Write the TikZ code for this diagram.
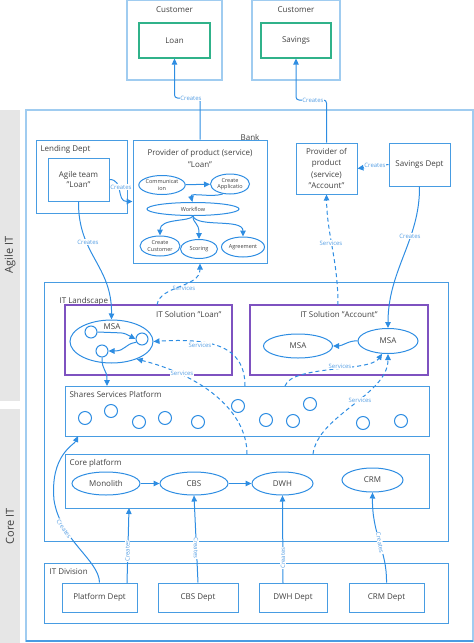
\documentclass[tikz,border=0pt]{standalone}
\usepackage{fontspec}
\setmainfont{Open Sans}
\usetikzlibrary{shapes.geometric}
\usetikzlibrary{arrows.meta}
\definecolor{lineblue}{RGB}{46,141,226}
\definecolor{boxblue}{RGB}{72,156,226}
\definecolor{paleblue}{RGB}{160,204,240}
\definecolor{lblblue}{RGB}{88,160,228}
\definecolor{solpurple}{RGB}{126,82,192}
\definecolor{prodgreen}{RGB}{48,178,138}
\definecolor{bandgray}{RGB}{230,230,230}
\definecolor{txtgray}{RGB}{64,64,64}

\begin{document}
\begin{tikzpicture}[x=1pt, y=-1pt,
  every node/.style={text=txtgray, font=\fontsize{8}{10}\selectfont},
  box/.style={draw=boxblue, line width=1pt, inner sep=0pt},
  palebox/.style={draw=paleblue, line width=1.4pt, inner sep=0pt},
  prodbox/.style={draw=prodgreen, line width=1.2pt, inner sep=0pt},
  solbox/.style={draw=solpurple, line width=1.2pt, inner sep=0pt},
  ell/.style={ellipse, draw=lineblue, line width=1pt, inner sep=0pt},
  tinyell/.style={ell, font=\fontsize{5.5}{6.5}\selectfont, align=center},
  dot/.style={circle, draw=lineblue, line width=1pt, minimum size=12pt, inner sep=0pt},
  conn/.style={draw=lineblue, line width=1pt, -{Triangle[length=6pt,width=5.5pt]}},
  svc/.style={conn, dash pattern=on 4pt off 3pt},
  lbl/.style={text=lblblue, font=\fontsize{6}{6}\selectfont, fill=white, inner sep=0.6pt}]

  \useasboundingbox (0,0) rectangle (474,643);

  % side bands
  \fill[bandgray] (0,110) rectangle (20,401);
  \fill[bandgray] (0,409) rectangle (20,643);
  \node[rotate=90, font=\fontsize{11}{12}\selectfont] (agileit) at (10,255) {Agile IT};
  \node[rotate=90, font=\fontsize{11}{12}\selectfont] (coreit) at (10,526) {Core IT};

  % customers
  \node[palebox, minimum width=95pt, minimum height=80pt] (custL) at (174.5,40) {};
  \node (custLt) at (174.5,10) {Customer};
  \node[prodbox, minimum width=71pt, minimum height=35pt] (loan) at (174.5,40.5) {Loan};
  \node[palebox, minimum width=88pt, minimum height=80pt] (custS) at (296,40) {};
  \node (custSt) at (296,10) {Customer};
  \node[prodbox, minimum width=70pt, minimum height=35pt] (savings) at (296,40.5) {Savings};

  % bank
  \draw[paleblue, line width=1.4pt] (26,110) rectangle (473,641);
  \draw[boxblue, line width=2pt] (26,641) -- (473,641);
  \node (bank) at (250,137) {Bank};

  % lending dept
  \node[box, minimum width=91pt, minimum height=73pt] (lending) at (81.5,176.5) {};
  \node[anchor=west] (lendingt) at (37,149) {Lending Dept};
  \node[box, minimum width=61pt, minimum height=43pt, align=center] (agile) at (78.5,179.5) {Agile team\\"Loan"};

  % provider loan
  \node[box, minimum width=134pt, minimum height=123pt] (provL) at (200,201.5) {};
  \node[align=center, font=\fontsize{8}{12}\selectfont] (provLt) at (200,158) {Provider of product (service)\\"Loan"};
  \node[tinyell, minimum width=43pt, minimum height=19pt] (comm) at (162,185) {Communicat\\ion};
  \node[tinyell, minimum width=39pt, minimum height=20pt] (capp) at (230,184) {Create\\Applicatio};
  \node[tinyell, minimum width=92pt, minimum height=13pt] (wflow) at (193,209) {Workflow};
  \node[tinyell, minimum width=40pt, minimum height=20pt] (ccust) at (160,246) {Create\\Customer};
  \node[tinyell, minimum width=37pt, minimum height=19pt] (scor) at (199,249) {Scoring};
  \node[tinyell, minimum width=43pt, minimum height=20pt] (agr) at (243,247) {Agreement};

  % provider account, savings dept
  \node[box, minimum width=61pt, minimum height=51pt, align=center, font=\fontsize{8}{11.5}\selectfont] (provA) at (326.5,168.5) {Provider of\\product\\(service)\\"Account"};
  \node[box, minimum width=61pt, minimum height=43pt] (savdept) at (419.5,164.5) {Savings Dept};

  % IT landscape
  \node[box, minimum width=404pt, minimum height=259pt] (itland) at (246,411.5) {};
  \node[anchor=west] (itlandt) at (56,301) {IT Landscape};

  % IT solution loan
  \node[solbox, minimum width=167pt, minimum height=70pt] (solL) at (148.5,340) {};
  \node[anchor=east] (solLt) at (225,314) {IT Solution "Loan"};
  \node[ell, minimum width=83pt, minimum height=43pt] (msaL) at (111.5,341.5) {};
  \node (msaLt) at (112,327) {MSA};
  \node[dot] (m1) at (91,332) {};
  \node[dot] (m2) at (142,339) {};
  \node[dot] (m3) at (102,351) {};

  % IT solution account
  \node[solbox, minimum width=178pt, minimum height=70pt] (solA) at (339,340) {};
  \node (solAt) at (339,314) {IT Solution "Account"};
  \node[ell, minimum width=69pt, minimum height=24pt] (msaA1) at (298,346) {MSA};
  \node[ell, minimum width=60pt, minimum height=25pt] (msaA2) at (388,341) {MSA};

  % shared services platform
  \node[box, minimum width=364pt, minimum height=50pt] (ssp) at (247,411) {};
  \node[anchor=west] (sspt) at (66,394) {Shares Services Platform};
  \node[dot, minimum size=13pt] (s1) at (85,418) {};
  \node[dot, minimum size=13pt] (s2) at (111,411) {};
  \node[dot, minimum size=13pt] (s3) at (139,422) {};
  \node[dot, minimum size=13pt] (s4) at (165,418) {};
  \node[dot, minimum size=13pt] (s5) at (198,422) {};
  \node[dot, minimum size=13pt] (s6) at (238,406) {};
  \node[dot, minimum size=13pt] (s7) at (266,420) {};
  \node[dot, minimum size=13pt] (s8) at (293,421) {};
  \node[dot, minimum size=13pt] (s9) at (310,404) {};
  \node[dot, minimum size=13pt] (s10) at (363,423) {};
  \node[dot, minimum size=13pt] (s11) at (401,421) {};

  % core platform
  \node[box, minimum width=364pt, minimum height=54pt] (corep) at (247,481) {};
  \node[anchor=west] (corept) at (66,463) {Core platform};
  \node[ell, minimum width=68pt, minimum height=23pt] (mono) at (106,483.5) {Monolith};
  \node[ell, minimum width=68pt, minimum height=23pt] (cbs) at (194,483.5) {CBS};
  \node[ell, minimum width=61pt, minimum height=23pt] (dwh) at (282.5,483.5) {DWH};
  \node[ell, minimum width=61pt, minimum height=24pt] (crm) at (372.5,480) {CRM};

  % IT division
  \node[box, minimum width=404pt, minimum height=60pt] (itdiv) at (246,593) {};
  \node[anchor=west] (itdivt) at (46,572) {IT Division};
  \node[box, minimum width=75pt, minimum height=29pt] (platd) at (99.5,597.5) {Platform Dept};
  \node[box, minimum width=80pt, minimum height=29pt] (cbsd) at (198,597.5) {CBS Dept};
  \node[box, minimum width=68pt, minimum height=29pt] (dwhd) at (293,597.5) {DWH Dept};
  \node[box, minimum width=75pt, minimum height=29pt] (crmd) at (386.5,597.5) {CRM Dept};

  % free connector ends
  \coordinate (solLtop) at (157,305);
  \coordinate (solAtop) at (338,305);
  \coordinate (sspIn) at (107,386);
  \coordinate (sspOut1) at (285,386);
  \coordinate (sspOut2) at (245,386);
  \coordinate (sspBot) at (78,436);
  \coordinate (coreOut1) at (247,454);
  \coordinate (coreOut2) at (313,454);
  \coordinate (coreIn) at (129,508);
  \coordinate (platOut) at (127,583);
  \coordinate (dwhOut) at (283,583);

  % creates
  \draw[conn, rounded corners=3pt] (provL.north) -- (200,98) -- (174.5,98) -- (loan.south);
  \draw[conn, rounded corners=3pt] (provA.north) -- (326.5,100) -- (296,100) -- (savings.south);
  \draw[conn] (agile.east) .. controls (124,179.5) and (116,201.5) .. (provL.west);
  \draw[conn] (agile.south) .. controls (78,255) and (112,265) .. (msaL.north);
  \draw[conn] (savdept.west) -- (provA.east);
  \draw[conn] (savdept.south) .. controls (420,240) and (388,270) .. (msaA2.north);

  % workflow
  \draw[conn] (comm) -- (capp);
  \draw[conn] (capp.235) .. controls (212,198) and (190,192) .. (wflow.95);
  \draw[conn] (wflow.south) .. controls (190,222) and (160,218) .. (ccust.north);
  \draw[conn] (wflow.south) .. controls (193,224) and (199,222) .. (scor.north);
  \draw[conn] (wflow.south) .. controls (197,228) and (243,218) .. (agr.north);

  % services
  \draw[svc] (solLtop) .. controls (160,285) and (200,288) .. (provL.south);
  \draw[svc] (solAtop) .. controls (338,260) and (327,235) .. (provA.south);
  \draw[svc] (sspOut2) .. controls (245,345) and (210,338) .. (msaL.east);
  \draw[svc] (coreOut1) .. controls (247,410) and (200,375) .. (msaL.325);
  \draw[svc] (sspOut1) .. controls (292,365) and (370,372) .. (msaA2.245);
  \draw[svc] (coreOut2) .. controls (318,415) and (388,395) .. (msaA2.south);

  % msa
  \draw[conn, rounded corners=3pt] (m1.east) -- (124,333) -- (m2.west);
  \draw[conn] (m2.210) .. controls (124,344) and (126,351) .. (m3.east);
  \draw[conn] (m3.south) .. controls (102,372) and (107,368) .. (sspIn);
  \draw[conn] (msaA2.west) .. controls (350,340) and (342,346) .. (msaA1.east);

  % core
  \draw[conn] (mono) -- (cbs);
  \draw[conn] (cbs) -- (dwh);

  % IT division creates
  \draw[conn] (platd.north) .. controls (99,560) and (60,540) .. (54,500) .. controls (50,455) and (74,445) .. (sspBot);
  \draw[conn] (platOut) -- (coreIn);
  \draw[conn] (cbsd.north) -- (cbs.south);
  \draw[conn] (dwhOut) -- (dwh.south);
  \draw[conn] (crmd.north) .. controls (387,550) and (372,535) .. (crm.south);

  % labels
  \node[lbl] (cr1) at (191,98) {Creates};
  \node[lbl] (cr2) at (313,100) {Creates};
  \node[lbl] (cr3) at (121,187) {Creates};
  \node[lbl] (cr4) at (88,242) {Creates};
  \node[lbl] (cr5) at (375,165) {Creates};
  \node[lbl] (cr6) at (410,236) {Creates};
  \node[lbl, fill=none] (sv1) at (184,288) {Services};
  \node[lbl] (sv2) at (331,243) {Services};
  \node[lbl] (sv3) at (200,345) {Services};
  \node[lbl] (sv4) at (182,373) {Services};
  \node[lbl] (sv5) at (340,366) {Services};
  \node[lbl] (sv6) at (360,400) {Services};
  \node[lbl, rotate=-55] (cr7) at (64,529) {Creates};
  \node[lbl, rotate=90] (cr8) at (127.5,551) {Creates};
  \node[lbl, rotate=-90] (cr9) at (196,548) {Creates};
  \node[lbl, rotate=90] (cr10) at (283,558) {Creates};
  \node[lbl, rotate=-80] (cr11) at (380,543) {Creates};
\end{tikzpicture}
\end{document}
